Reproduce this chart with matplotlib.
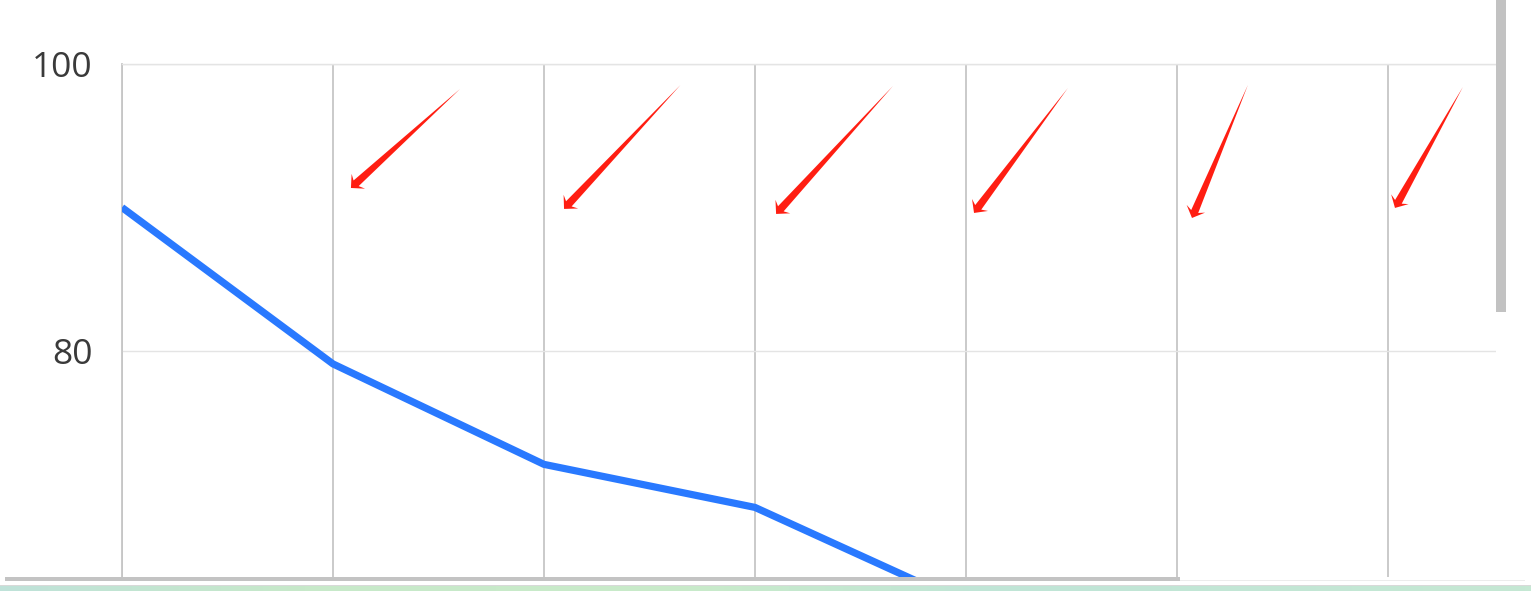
import numpy as np
import matplotlib
matplotlib.use("Agg")
import matplotlib.pyplot as plt
from matplotlib.patches import Polygon, Rectangle
from matplotlib.colors import LinearSegmentedColormap

# ---- data ----
categories = [0, 1, 2, 3, 4, 5, 6]
line_values = [90.0, 79.1, 72.1, 69.1, 62.4]
ytick_values = [80, 100]
ytick_labels = ["80", "100"]
arrow_tip_x = [1.085, 2.095, 3.100, 4.038, 5.071, 6.033]
arrow_tip_y = [91.36, 89.90, 89.55, 89.62, 89.27, 89.97]
arrow_tail_x = [1.602, 2.647, 3.654, 4.483, 5.336, 6.355]
arrow_tail_y = [98.26, 98.54, 98.47, 98.33, 98.54, 98.40]

# ---- layout (pixels) ----
W, H = 1531, 591
fig = plt.figure(figsize=(W / 100, H / 100), dpi=100)
fig.patch.set_facecolor("white")

ax_left, ax_right, ax_top, ax_bottom = 122, 1496, 64, 577
cat_px = 211.0
unit_px = 14.35
ax = fig.add_axes([ax_left / W, (H - ax_bottom) / H,
                   (ax_right - ax_left) / W, (ax_bottom - ax_top) / H])
ax.set_xlim(0, (ax_right - ax_left) / cat_px)
ax.set_ylim(100 - (ax_bottom - ax_top) / unit_px, 100)

ax.set_xticks(categories)
ax.set_xticklabels([])
ax.set_yticks(ytick_values)
ax.set_yticklabels(ytick_labels, fontsize=25.5, color="#3a3a3a", family="Open Sans")
ax.tick_params(axis="both", length=0)
ax.tick_params(axis="y", pad=21)
ax.xaxis.grid(True, color="#c6c6c6", lw=1.3)
ax.yaxis.grid(True, color="#e4e4e4", lw=1.0)
ax.set_axisbelow(True)
for s in ["right", "bottom"]:
    ax.spines[s].set_visible(False)
ax.spines["left"].set_color("#c6c6c6")
ax.spines["left"].set_linewidth(1.3)
ax.spines["top"].set_color("#e4e4e4")
ax.spines["top"].set_linewidth(1.0)

# ---- blue line ----
ax.plot(range(len(line_values)), line_values, color="#2979ff", lw=5.2,
        solid_capstyle="butt", solid_joinstyle="round", zorder=3)

# ---- red tapered arrows ----
def arrow_poly(tx, ty, sx, sy):
    T = ax.transData.transform((tx, ty))
    S = ax.transData.transform((sx, sy))
    d = T - S
    L = np.hypot(*d)
    u = d / L
    n = np.array([-u[1], u[0]])
    pts = [T, T - 10 * u + 10 * n, T - 7 * u + 3.8 * n, S,
           T - 7 * u - 3.8 * n, T - 10 * u - 10 * n]
    return ax.transData.inverted().transform(np.array(pts))

for tx, ty, sx, sy in zip(arrow_tip_x, arrow_tip_y, arrow_tail_x, arrow_tail_y):
    ax.add_patch(Polygon(arrow_poly(tx, ty, sx, sy), closed=True,
                         facecolor="#ff1e12", edgecolor="none", zorder=4))

# ---- browser chrome: scrollbars and bottom strip ----
def px_rect(x0, y0, x1, y1, color, z=10):
    fig.add_artist(Rectangle((x0 / W, (H - y1) / H), (x1 - x0) / W, (y1 - y0) / H,
                             transform=fig.transFigure, facecolor=color,
                             edgecolor="none", zorder=z))

px_rect(1496, 0, 1506, 312, "#c2c2c2")
px_rect(0, 581, W, 586, "#ffffff")
px_rect(5, 577, 1180, 581, "#c3c3c3")
px_rect(1180, 580, 1525, 581, "#ececec")
px_rect(0, 585, W, 586, "#d9d9d9")

strip = fig.add_axes([0, 0, 1, 5 / H], zorder=11)
cmap = LinearSegmentedColormap.from_list(
    "strip", [(0.0, "#bfe2d9"), (0.2, "#c7e9c9"), (0.45, "#c9ebca"),
              (0.65, "#c0e5d7"), (1.0, "#c5e8d3")])
strip.imshow(np.linspace(0, 1, 256)[None, :], aspect="auto", cmap=cmap,
             extent=[0, 1, 0, 1])
strip.set_axis_off()

fig.savefig("out.png", dpi=100)
